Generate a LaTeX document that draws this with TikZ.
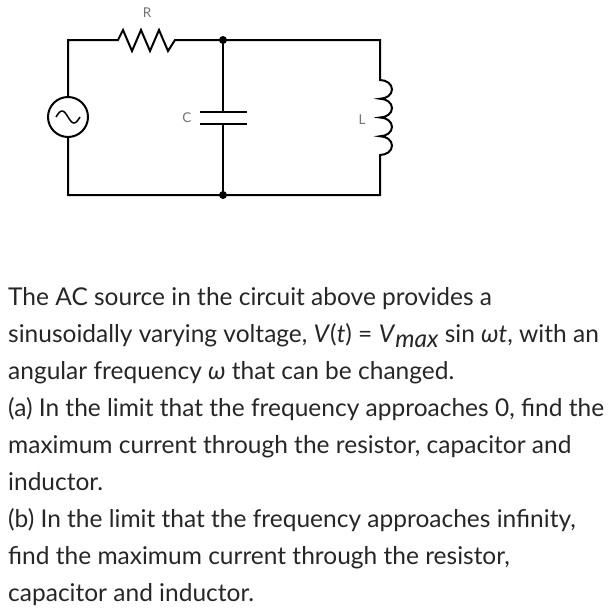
\documentclass[tikz,border=0pt]{standalone}
\usepackage{fontspec}
\setmainfont{Lato}
\begin{document}
\begin{tikzpicture}[x=1pt,y=1pt,
  wire/.style={line width=2pt,line join=miter},
  lbl/.style={text=black!55,font=\fontsize{13.5}{15}\selectfont},
  txt/.style={anchor=base west,inner sep=0pt,font=\fontsize{24.5}{37}\selectfont,text=black!85}]
\useasboundingbox (0,0) rectangle (615,-613);
\coordinate (tl) at (68,-40); \coordinate (bl) at (68,-195);
\coordinate (tr) at (380,-40); \coordinate (br) at (380,-195);
\coordinate (jt) at (223,-40); \coordinate (jb) at (223,-195);
\node[circle,draw,line width=2pt,minimum size=40pt,inner sep=0pt] (src) at (68,-117) {};
\draw[line width=1.5pt] plot[domain=-12:12,samples=40,smooth] ({\x+68},{-117+6*sin(-\x/12*180)});
\draw[wire] (src.north) -- (tl) -- (118,-40) -- (123,-30) -- (132,-51) -- (141,-30) -- (150,-51) -- (159,-30) -- (168,-51) -- (175,-40) -- (jt) -- (tr) -- (380,-80)
  arc[start angle=90,end angle=-90,x radius=12,y radius=9.375]
  arc[start angle=90,end angle=-90,x radius=12,y radius=9.375]
  arc[start angle=90,end angle=-90,x radius=12,y radius=9.375]
  arc[start angle=90,end angle=-90,x radius=12,y radius=9.375]
  -- (br) -- (jb) -- (bl) -- (src.south);
\draw[wire] (jt) -- (223,-112); \draw[wire] (200,-112) -- (247,-112);
\draw[wire] (jb) -- (223,-124); \draw[wire] (200,-124) -- (247,-124);
\fill (jt) circle (4); \fill (jb) circle (4);
\node[lbl] (R) at (147,-13) {R};
\node[lbl] (C) at (187,-118) {C};
\node[lbl] (L) at (362,-120) {L};
\node[txt] (l1) at (8,-305) {The AC source in the circuit above provides a};
\node[txt] (l2) at (8,-342) {sinusoidally varying voltage, \textit{V}(\textit{t}) = \textit{V}\raisebox{-0.45ex}{\textit{max}} sin \textit{ωt}, with an};
\node[txt] (l3) at (8,-379) {angular frequency \textit{ω} that can be changed.};
\node[txt] (l4) at (8,-416) {(a) In the limit that the frequency approaches 0, find the};
\node[txt] (l5) at (8,-453) {maximum current through the resistor, capacitor and};
\node[txt] (l6) at (8,-490) {inductor.};
\node[txt] (l7) at (8,-527) {(b) In the limit that the frequency approaches infinity,};
\node[txt] (l8) at (8,-564) {find the maximum current through the resistor,};
\node[txt] (l9) at (8,-601) {capacitor and inductor.};
\end{tikzpicture}
\end{document}
